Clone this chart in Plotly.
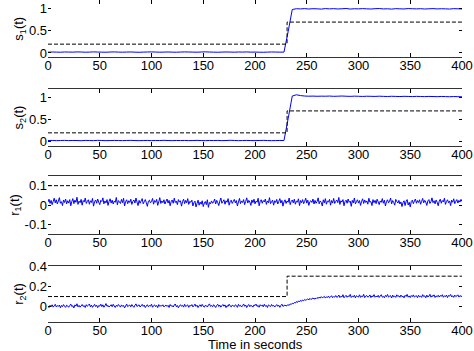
import plotly.graph_objects as go

# ---- data (responses in thousandths) ----
t_s = list(range(0, 401, 4))
t_r = list(range(0, 401, 1))

s1_milli = [18,22,20,17,23,21,19,24,22,18, 20,25,21,19,17,22,24,20,18,21,
            23,19,16,20,22,25,21,18,20,23, 19,17,21,24,22,20,18,22,26,21,
            19,17,20,23,21,18,22,20,24,19, 21,18,16,20,23,21,19,20,
            480, 985,
            1002,998,1005,996,1003,1000,994,1006,999,1004, 997,1001,1008,995,1002,999,1005,1000,996,1003,
            1007,998,1001,994,1004,1000,997,1006,1002,999, 1003,996,1001,1005,998,1002,1000,995,1004,1001,
            998]

s2_milli = [24,27,22,25,28,23,26,24,21,27, 25,23,28,26,22,24,27,25,23,26,
            28,24,22,25,27,23,26,24,29,25, 22,26,24,27,23,25,28,24,22,26,
            25,27,23,24,30,26,22,25,27,24, 23,26,28,25,22,24,26,25,
            520, 1040,
            1068,1050,1040,1036,1038,1034,1037,1035,1039,1033, 1036,1040,1035,1032,1037,1034,1030,1035,1033,1031,
            1036,1032,1029,1034,1031,1028,1033,1030,1027,1032, 1029,1026,1031,1028,1025,1030,1027,1024,1028,1025,
            1022]

r1_milli = [
    15,30,8,24,2,19,35,11,27,5,21,38,9,17,-3,26,13,31,6,22,
    10,28,-4,18,33,7,25,14,40,3,20,12,29,-1,23,16,36,8,19,27,
    4,22,13,34,-6,17,26,9,31,15,2,24,18,37,6,21,11,28,-2,19,
    32,10,25,5,20,14,39,1,23,16,8,29,12,35,-5,18,27,7,22,13,
    30,3,19,26,10,36,15,-3,24,9,21,33,6,17,28,12,-7,20,25,11,
    18,34,4,23,14,29,-2,16,38,8,21,12,27,5,19,31,10,24,-4,17,
    26,9,35,13,20,2,28,15,22,-6,18,30,7,24,11,33,3,19,14,25,
    -5,12,20,-10,8,25,-1,15,4,22,-8,10,18,2,27,-12,13,6,21,9,
    16,31,5,24,12,-3,20,36,9,18,27,4,22,14,33,-1,17,25,8,19,
    29,11,23,-5,16,34,7,21,13,28,2,19,37,10,24,15,-2,26,12,30,
    6,20,14,35,-4,18,27,9,23,16,31,3,21,12,38,7,17,25,-1,22,
    13,29,5,19,33,10,24,-6,16,27,8,21,14,36,2,18,26,11,30,4,
    20,15,32,-3,23,12,28,7,19,35,10,25,-2,17,22,13,31,5,24,9,
    18,37,6,21,14,-5,27,11,33,4,20,16,29,-1,23,10,34,8,19,26,
    12,39,3,22,15,28,-4,18,25,9,31,14,20,-7,24,11,36,6,17,27,
    10,23,-2,19,32,8,26,13,21,4,35,15,18,-3,28,12,24,7,30,16,
    2,21,14,33,9,25,-5,17,27,11,20,36,6,23,13,-1,29,18,10,24,
    5,16,-8,12,22,-3,19,28,0,14,-10,18,25,7,20,31,9,23,13,27,
    4,19,34,11,24,15,-2,21,28,8,17,37,12,22,6,26,14,-4,20,30,
    9,23,16,35,3,18,27,12,21,-3,25,14,32,7,19,28,10,24,15,29,
    18]

r2_milli = [
    6,-8,14,0,19,-4,9,24,-2,11,3,17,-10,13,1,21,5,-6,15,8,
    -5,12,26,2,10,-12,18,6,29,-1,13,-4,8,22,3,11,-8,20,5,14,
    27,-1,16,-6,9,23,2,15,-9,12,6,25,1,19,-5,10,31,4,13,-3,
    8,20,0,24,7,-7,14,3,22,9,-4,18,5,12,-11,7,26,1,10,17,
    -1,21,6,-6,15,28,2,11,19,-3,9,23,4,16,-8,8,20,0,12,5,
    25,-5,10,18,1,13,-9,21,4,11,7,19,-2,9,16,3,14,-7,22,6,
    11,-3,17,27,0,12,-10,8,20,5,14,-4,24,2,10,18,-6,13,7,21,
    -2,9,26,3,15,-8,11,19,1,23,6,-5,14,10,-3,17,28,4,12,-1,
    20,7,-7,13,24,2,16,-4,10,22,5,18,-9,11,3,25,8,-2,15,9,
    1,19,12,-6,23,6,14,-3,10,27,4,17,-8,12,21,0,15,7,-4,18,
    11,26,3,13,-5,20,8,16,-1,24,5,12,-7,18,10,2,22,6,14,-3,
    9,21,4,15,-6,12,25,3,10,17,6,14,20,12,27,24,33,29,41,36,
    50,42,58,47,62,54,66,58,72,63,70,77,66,82,71,78,86,74,83,79,
    90,81,95,84,99,88,93,102,85,97,91,105,87,96,108,89,100,94,110,92,
    98,115,90,103,96,118,88,101,112,93,106,99,121,91,104,97,113,87,108,100,
    95,117,92,105,99,122,89,103,110,94,101,116,90,107,98,119,93,104,96,112,
    91,106,118,94,102,88,111,99,120,95,103,109,86,114,97,105,92,117,100,108,
    93,115,98,104,87,112,101,121,94,106,90,110,99,116,95,103,108,89,113,97,
    105,92,119,100,107,88,114,96,103,122,94,109,101,117,91,106,98,113,95,110,
    102,118,93,107,99,115,90,111,104,120,96,108,92,114,100,106,117,95,109,103,
    101]

ref_t = [0, 231, 231, 400]
s_ref = [0.2, 0.2, 0.7, 0.7]
r1_ref_t = [0, 400]
r1_ref = [0.1, 0.1]
r2_ref = [0.1, 0.1, 0.3, 0.3]

y_titles = ["s<sub>1</sub>(t)", "s<sub>2</sub>(t)", "r<sub>1</sub>(t)", "r<sub>2</sub>(t)"]
x_title = "Time in seconds"
y_ranges = [[-0.1, 1.2], [-0.1, 1.2], [-0.15, 0.15], [-0.15, 0.4]]
y_tickvals = [[0, 0.5, 1], [0, 0.5, 1], [-0.1, 0, 0.1], [0, 0.2, 0.4]]
y_ticktext = [["0", "0.5", "1"], ["0", "0.5", "1"], ["-0.1", "0", "0.1"], ["0", "0.2", "0.4"]]
x_ticks = [0, 50, 100, 150, 200, 250, 300, 350, 400]

s1 = [v / 1000 for v in s1_milli]
s2 = [v / 1000 for v in s2_milli]
r1 = [v / 1000 for v in r1_milli]
r2 = [v / 1000 for v in r2_milli]

series = [(t_s, s1, ref_t, s_ref), (t_s, s2, ref_t, s_ref),
          (t_r, r1, r1_ref_t, r1_ref), (t_r, r2, ref_t, r2_ref)]

H = 322.0
px_dom = [(0, 57.4), (89, 146), (176, 234), (266, 322.0)]
domains = [[max(0, 1 - b / H), min(1, 1 - a / H)] for a, b in px_dom]

fig = go.Figure()
for i, (tx, ty, rx, ry) in enumerate(series):
    n = i + 1
    xa = "x" if n == 1 else f"x{n}"
    ya = "y" if n == 1 else f"y{n}"
    fig.add_trace(go.Scatter(x=tx, y=ty, mode="lines", xaxis=xa, yaxis=ya,
                             line=dict(color="#0000ff", width=1, simplify=False), showlegend=False))
    fig.add_trace(go.Scatter(x=rx, y=ry, mode="lines", xaxis=xa, yaxis=ya,
                             line=dict(color="black", width=1, dash="4px,2px"), showlegend=False))

font = dict(family="Liberation Sans, Arial, sans-serif", size=13, color="black")
layout = dict(width=474, height=351, margin=dict(l=48, r=12, t=0, b=29, autoexpand=False),
              paper_bgcolor="white", plot_bgcolor="white", font=font)
for i in range(4):
    n = i + 1
    xk = "xaxis" if n == 1 else f"xaxis{n}"
    yk = "yaxis" if n == 1 else f"yaxis{n}"
    layout[xk] = dict(domain=[0, 1], anchor="y" if n == 1 else f"y{n}", range=[0, 400],
                      tickvals=x_ticks, ticks="inside", ticklen=4, tickcolor="black",
                      showline=True, linecolor="#333", linewidth=1, mirror="ticks",
                      showgrid=False, zeroline=False, tickfont=font, automargin=False,
                      ticklabelstandoff=-4)
    layout[yk] = dict(domain=domains[i], anchor="x" if n == 1 else f"x{n}", range=y_ranges[i],
                      tickvals=y_tickvals[i], ticktext=y_ticktext[i], ticks="inside", ticklen=3,
                      tickcolor="black", showline=False, mirror="ticks", showgrid=False,
                      zeroline=False, tickfont=font, automargin=False,
                      title=dict(text=y_titles[i], font=font, standoff=2))
fig.update_layout(**layout)
fig.add_annotation(text=x_title, xref="paper", yref="paper", x=0.5, y=-(344 - H) / H,
                   xanchor="center", yanchor="middle", showarrow=False, font=font)
fig.write_html("out.html")
